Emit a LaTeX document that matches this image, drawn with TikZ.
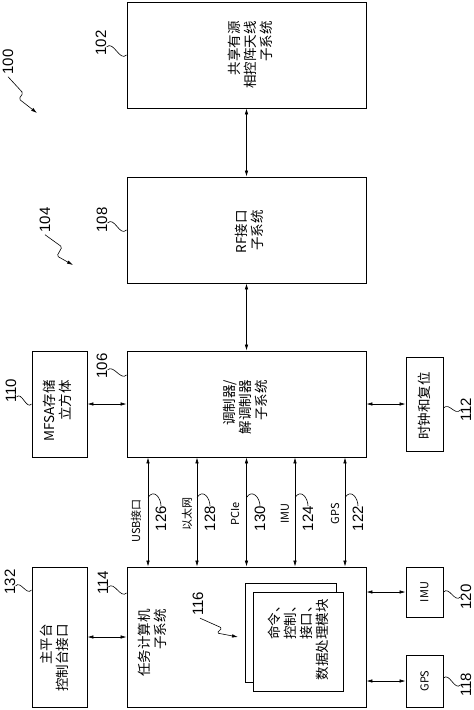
\documentclass[tikz,border=0pt]{standalone}
\usepackage{fontspec}
\setmainfont{Noto Sans CJK SC}
\newfontfamily\numfont{Liberation Sans}
\usetikzlibrary{arrows.meta}

\begin{document}
\begin{tikzpicture}[x=1pt, y=-1pt, >={Latex[length=6pt,width=3.5pt]}]
\tikzset{blk/.style={draw, line width=0.9pt, fill=white, inner sep=0pt},
  txt/.style={rotate=90, anchor=east, align=right, inner sep=0pt, font=\fontsize{13.5}{16}\selectfont},
  bus/.style={rotate=90, anchor=east, inner sep=0pt, font=\fontsize{11}{11}\selectfont},
  num/.style={rotate=90, inner sep=0pt, font=\numfont\fontsize{15}{15}\selectfont},
  lead/.style={line width=0.6pt},
  link/.style={<->, line width=0.6pt}}
\useasboundingbox (0,0) rectangle (474,710);
% blocks
\node[blk, minimum width=239pt, minimum height=106pt] (b102) at (246.5,55) {};
\node[blk, minimum width=239pt, minimum height=106pt] (b108) at (246.5,230) {};
\node[blk, minimum width=239pt, minimum height=106pt] (b106) at (246.5,404) {};
\node[blk, minimum width=55pt, minimum height=106pt] (b110) at (59.5,404) {};
\node[blk, minimum width=37pt, minimum height=94pt] (b112) at (424.5,404) {};
\node[blk, minimum width=239pt, minimum height=140pt] (b114) at (246.5,637) {};
\node[blk, minimum width=55pt, minimum height=140pt] (b132) at (59.5,637) {};
\node[blk, minimum width=37pt, minimum height=50pt] (b120) at (424.5,592) {};
\node[blk, minimum width=37pt, minimum height=52pt] (b118) at (424.5,681) {};
\node[blk, minimum width=91pt, minimum height=99pt] (b116a) at (290.5,632.5) {};
\node[blk, minimum width=90pt, minimum height=99pt] (b116) at (298,641.5) {};
% texts
\node[txt] (t102) at (250,21) {共享有源\\相控阵天线\\子系统};
\node[txt] (t108) at (249,210) {RF接口\\子系统};
\node[txt] (t106) at (245,380) {调制器/\\解调制器\\子系统};
\node[txt] (t110) at (57,380) {MFSA存储\\立方体};
\node[txt] (t112) at (424,372) {时钟和复位};
\node[txt] (t114) at (152,609) {任务计算机\\子系统};
\node[txt] (t116) at (298,599) {命令、\\控制、\\接口、\\数据处理模块};
\node[txt] (t132) at (54,624) {主平台\\控制台接口};
\node[bus, anchor=center] (t120) at (b120) {IMU};
\node[bus, anchor=center] (t118) at (b118) {GPS};
% links
\draw[link] (b102.south) -- (b108.north);
\draw[link] (b108.south) -- (b106.north);
\draw[link] (b110.east) -- (b106.west);
\draw[link] (b106.east) -- (b112.west);
\draw[link] (b132.east) -- (b114.west);
\draw[link] (b114.east |- b120.west) -- (b120.west);
\draw[link] (b114.east |- b118.west) -- (b118.west);
\draw[link] ([xshift=-98.5pt]b106.south) -- ([xshift=-98.5pt]b114.north);
\draw[link] ([xshift=-49.5pt]b106.south) -- ([xshift=-49.5pt]b114.north);
\draw[link] (b106.south) -- (b114.north);
\draw[link] ([xshift=48.5pt]b106.south) -- ([xshift=48.5pt]b114.north);
\draw[link] ([xshift=98.5pt]b106.south) -- ([xshift=98.5pt]b114.north);
% bus labels
\node[bus] (l126) at (136,499) {USB接口};
\node[bus] (l128) at (187,497) {以太网};
\node[bus] (l130) at (235,502) {PCIe};
\node[bus] (l124) at (285,503) {IMU};
\node[bus] (l122) at (335,503) {GPS};
% reference numbers
\node[num] (n100) at (8,62) {100};
\node[num] (n104) at (45,220) {104};
\node[num] (n116) at (198,604) {116};
\node[num] (n102) at (101,43) {102};
\node[num] (n108) at (102,220) {108};
\node[num] (n106) at (102,366) {106};
\node[num] (n110) at (11,391) {110};
\node[num] (n112) at (466,410) {112};
\node[num] (n114) at (103,583) {114};
\node[num] (n132) at (10,582) {132};
\node[num] (n120) at (466,597) {120};
\node[num] (n118) at (466,685) {118};
\node[num, anchor=east] (n126) at (161,506) {126};
\node[num, anchor=east] (n128) at (210,506) {128};
\node[num, anchor=east] (n130) at (260,506) {130};
\node[num, anchor=east] (n124) at (308,506) {124};
\node[num, anchor=east] (n122) at (358,506) {122};
% leaders
\draw[lead] ([yshift=-4pt]n102.south) .. controls +(7,-7) and +(-7,7) .. (b102.west);
\draw[lead] ([yshift=-3pt]n108.south) .. controls +(7,-7) and +(-7,7) .. (b108.west);
\draw[lead] ([yshift=-4pt]n106.south) .. controls +(6,-6) and +(-6,6) .. ([yshift=29pt]b106.west);
\draw[lead] ([yshift=-6pt]n110.south) .. controls +(5,-6) and +(-5,6) .. (b110.west);
\draw[lead] ([yshift=-4pt]n114.south) .. controls +(6,-6) and +(-6,6) .. ([yshift=44pt]b114.west);
\draw[lead] ([yshift=-4pt]n132.south) .. controls +(5,-6) and +(-5,6) .. ([yshift=47pt]b132.west);
\draw[lead] ([yshift=-4pt]b112.east) .. controls +(6,-6) and +(-6,6) .. (n112.north);
\draw[lead] (b120.east) .. controls +(6,-6) and +(-6,6) .. (n120.north);
\draw[lead] ([yshift=3pt]b118.east) .. controls +(6,-6) and +(-6,6) .. (n118.north);
\draw[lead] ([xshift=-98.5pt,yshift=-40pt]b106.south) .. controls +(6,-9) and +(0,-8) .. (n126.east);
\draw[lead] ([xshift=-49.5pt,yshift=-40pt]b106.south) .. controls +(6,-9) and +(0,-8) .. (n128.east);
\draw[lead] ([yshift=-40pt]b106.south) .. controls +(6,-9) and +(0,-8) .. (n130.east);
\draw[lead] ([xshift=48.5pt,yshift=-40pt]b106.south) .. controls +(6,-9) and +(0,-8) .. (n124.east);
\draw[lead] ([xshift=98.5pt,yshift=-40pt]b106.south) .. controls +(6,-9) and +(0,-8) .. (n122.east);
% group arrows
\draw[->, lead, rounded corners=1.5pt] ([yshift=-2pt]n100.west) -- (23,93) -- (19,99) -- (37,113);
\draw[->, lead, rounded corners=1.5pt] ([yshift=-2pt]n104.west) -- (62,247) -- (57,256) -- (73,265);
\draw[->, lead, rounded corners=1.5pt] ([xshift=2pt,yshift=-2pt]n116.west) -- (222,628) -- (217,633) -- (238,637);
\end{tikzpicture}
\end{document}
